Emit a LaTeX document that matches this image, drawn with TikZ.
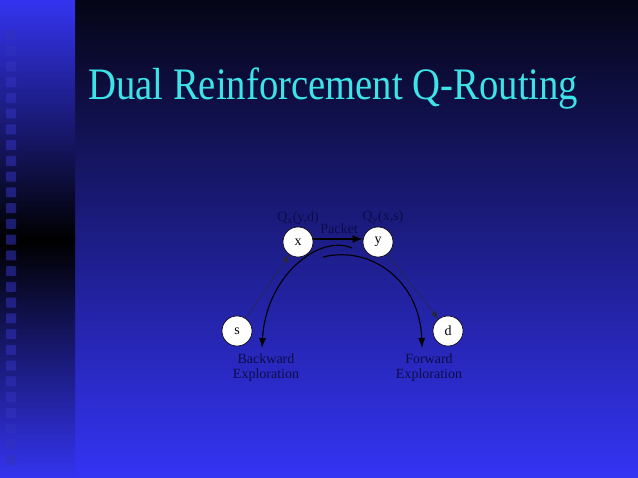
\documentclass[tikz,border=0pt]{standalone}
\usepackage{fontspec}
\setmainfont{Liberation Serif}
\usetikzlibrary{arrows.meta}
\definecolor{titlecyan}{RGB}{60,228,232}
\definecolor{navytext}{RGB}{12,12,70}
\definecolor{stripbright}{RGB}{52,52,240}
\definecolor{maintop}{RGB}{5,5,22}
\definecolor{mainmid}{RGB}{28,28,138}
\definecolor{mainbot}{RGB}{52,52,245}
\definecolor{sqcol}{RGB}{50,50,190}
\tikzset{
  netnode/.style={circle,draw=black,line width=0.6pt,fill=white,minimum size=30pt,inner sep=0pt,font=\fontsize{14}{14}\selectfont,text=black},
  lbl/.style={font=\fontsize{14}{15}\selectfont,text=navytext,inner sep=0pt,align=center},
  thinarrow/.style={draw={rgb,255:red,40;green,40;blue,60},line width=0.5pt,-{Latex[length=8pt,width=6pt]}},
  packetarrow/.style={draw=black,line width=1.4pt,-{Latex[length=10pt,width=8pt]}},
  curvearrow/.style={draw=black,line width=1.1pt,-{Latex[length=10pt,width=7pt]}},
  sq/.style={fill=sqcol,fill opacity=0.55,rounded corners=1pt}
}
\begin{document}
\begin{tikzpicture}[x=1pt,y=-1pt]
\useasboundingbox (0,0) rectangle (638,478);
% main background
\shade[top color=maintop,middle color=mainmid,bottom color=mainbot] (75,0) rectangle (638,478);
% left strip
\shade[top color=stripbright,bottom color=black] (0,0) rectangle (75,240);
\shade[top color=black,bottom color=stripbright] (0,240) rectangle (75,478);
\foreach \i in {0,...,27}{
  \fill[sq] (6,{30+15.75*\i}) rectangle (16,{40+15.75*\i});
}
% title
\node[anchor=base west,inner sep=0pt,text=titlecyan] (title) at (88,100)
  {\scalebox{0.86}[1]{\fontsize{45}{45}\selectfont Dual Reinforcement Q-Routing}};
% nodes
\node[netnode] (x) at (298,242) {x};
\node[netnode] (y) at (378,242) {y};
\node[netnode] (s) at (237,331) {s};
\node[netnode] (d) at (448,331) {d};
% labels
\node[lbl] (qx) at (298,218) {Q\textsubscript{x}(y,d)};
\node[lbl] (qy) at (383,218) {Q\textsubscript{y}(x,s)};
\node[lbl] (pk) at (339,229) {Packet};
\node[lbl] (bw) at (266,368) {Backward\\Exploration};
\node[lbl] (fw) at (429,368) {Forward\\Exploration};
% connectors
\draw[packetarrow] ([yshift=3pt]x.east) -- ([yshift=3pt]y.west);
\draw[thinarrow] (s) -- (x);
\draw[thinarrow] (y) -- (d);
% exploration arcs
\coordinate (b0) at (352,248);
\coordinate (b1) at (262,348);
\coordinate (f0) at (323,257);
\coordinate (f1) at (422,348);
\draw[curvearrow] (b0) .. controls (320,234) and (266,275) .. (b1);
\draw[curvearrow] (f0) .. controls (372,245) and (420,282) .. (f1);
\end{tikzpicture}
\end{document}
